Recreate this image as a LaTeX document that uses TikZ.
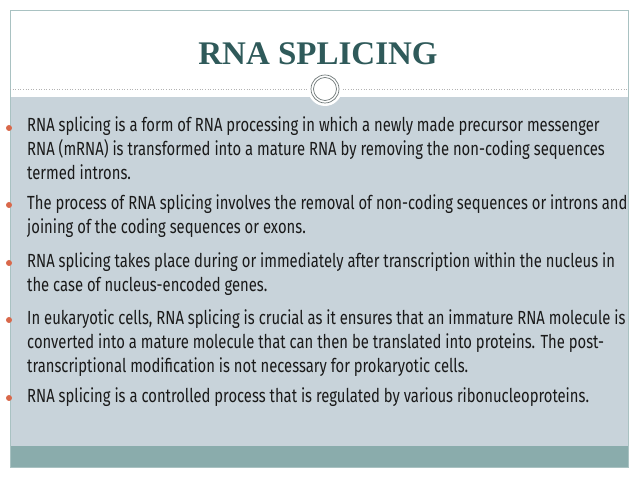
\documentclass[tikz,border=0pt]{standalone}
\usepackage{fontspec}
\setmainfont{Liberation Serif}
\newfontfamily\bodyfont[FakeStretch=0.78]{Fira Sans}
\definecolor{bodybg}{HTML}{C8D3DA}
\definecolor{band}{HTML}{8AACAC}
\definecolor{framec}{HTML}{A9C2C2}
\definecolor{titlec}{HTML}{2F5A5A}
\definecolor{bul}{HTML}{D9684A}
\definecolor{txt}{HTML}{1A1A1A}
\begin{document}
\begin{tikzpicture}[x=1pt,y=-1pt,
  para/.style={anchor=north west,align=left,inner sep=0pt,font=\bodyfont\fontsize{19}{24}\selectfont,text=txt},
  dot/.style={circle,fill=bul,inner sep=0pt,minimum size=6pt}]
\useasboundingbox (0,0) rectangle (638,478);
\fill[white] (0,0) rectangle (638,478);
\fill[bodybg] (10,97) rectangle (628,446);
\fill[band] (10,446) rectangle (628,467);
\draw[framec,line width=0.8pt] (10,10) rectangle (628,467);
\draw[gray!60,dotted,line width=0.6pt] (10,89) -- (628,89);
\node[circle,fill=white,minimum size=34pt,inner sep=0pt] (c0) at (325,89) {};
\node[circle,draw=gray!80!titlec,line width=0.7pt,minimum size=28pt,inner sep=0pt] (c1) at (325,89) {};
\node[circle,draw=gray!80!titlec,line width=0.7pt,minimum size=23pt,inner sep=0pt] (c2) at (325,89) {};
\node[font=\bfseries\fontsize{33}{35}\selectfont,text=titlec] (title) at (318,54) {RNA SPLICING};
\node[para] (p1) at (27,116) {RNA splicing is a form of RNA processing in which a newly made precursor messenger\\RNA (mRNA) is transformed into a mature RNA by removing the non-coding sequences\\termed introns.};
\node[para] (p2) at (27,194) {The process of RNA splicing involves the removal of non-coding sequences or introns and\\joining of the coding sequences or exons.};
\node[para] (p3) at (27,252) {RNA splicing takes place during or immediately after transcription within the nucleus in\\the case of nucleus-encoded genes.};
\node[para] (p4) at (27,309) {In eukaryotic cells, RNA splicing is crucial as it ensures that an immature RNA molecule is\\converted into a mature molecule that can then be translated into proteins. The post-\\transcriptional modification is not necessary for prokaryotic cells.};
\node[para] (p5) at (27,387) {RNA splicing is a controlled process that is regulated by various ribonucleoproteins.};
\foreach \y in {128,205,263,320,398} \node[dot] at (9,\y) {};
\end{tikzpicture}
\end{document}
